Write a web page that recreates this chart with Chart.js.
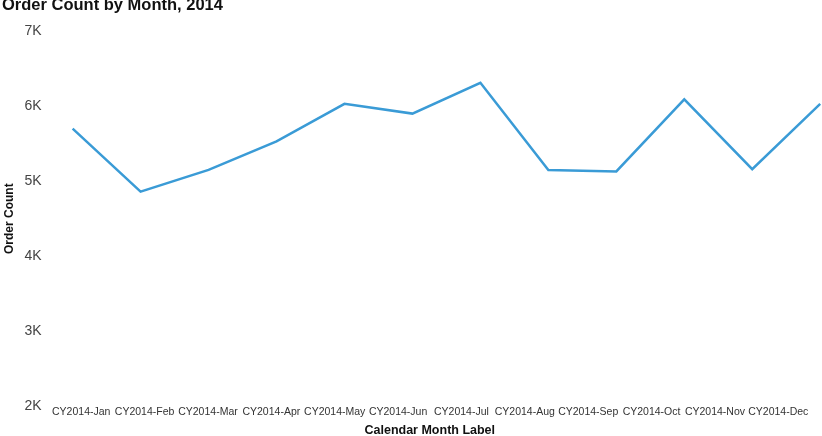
<!DOCTYPE html>
<html>
<head>
<meta charset="utf-8">
<script src="https://cdn.jsdelivr.net/npm/chart.js@4"></script>
<style>
  html, body { margin: 0; padding: 0; background: #fff; overflow: hidden; }
  #wrap { width: 822px; height: 438px; }
</style>
</head>
<body>
<div id="wrap"><canvas id="grafico"></canvas></div>
<script>
// --- DATOS ---
const meses = ['CY2014-Jan', 'CY2014-Feb', 'CY2014-Mar', 'CY2014-Apr', 'CY2014-May', 'CY2014-Jun',
               'CY2014-Jul', 'CY2014-Aug', 'CY2014-Sep', 'CY2014-Oct', 'CY2014-Nov', 'CY2014-Dec'];
const pedidos = [5700, 4860, 5150, 5530, 6030, 5900, 6310, 5150, 5130, 6090, 5160, 6030];
const ticksY = [2000, 3000, 4000, 5000, 6000, 7000];

// --- GRAFICO ---
const fuente = 'Arial, "Liberation Sans", sans-serif';
const puntos = pedidos.map((v, i) => ({ x: i, y: v }));

new Chart(document.getElementById('grafico'), {
    type: 'line',
    data: {
        datasets: [{
            label: 'Order Count',
            data: puntos,
            xAxisID: 'x',
            borderColor: '#3a9bd6',
            borderWidth: 2.5,
            pointRadius: 0,
            tension: 0,
            clip: false
        }]
    },
    options: {
        responsive: true,
        maintainAspectRatio: false,
        animation: false,
        layout: { padding: { left: 2, right: 12, top: 0, bottom: 0 } },
        plugins: {
            legend: { display: false },
            tooltip: { enabled: false },
            title: {
                display: true,
                text: 'Order Count by Month, 2014',
                align: 'start',
                color: '#111',
                font: { family: fuente, size: 16.5, weight: 'bold', lineHeight: 1 },
                padding: { top: -3, bottom: 17.5 }
            }
        },
        scales: {
            // eje de datos (oculto): indices de mes
            x: {
                type: 'linear',
                display: false,
                min: -0.34,
                max: 10.85
            },
            // eje visible con las etiquetas de mes
            x2: {
                type: 'category',
                labels: meses,
                position: 'bottom',
                offset: true,
                grid: { display: false },
                border: { display: false },
                ticks: {
                    autoSkip: false,
                    maxRotation: 0,
                    padding: -9,
                    color: '#333',
                    font: { family: fuente, size: 10.5 }
                },
                title: {
                    display: true,
                    text: 'Calendar Month Label',
                    color: '#111',
                    font: { family: fuente, size: 12.5, weight: 'bold' },
                    padding: { top: 14, bottom: 0 }
                }
            },
            y: {
                min: ticksY[0],
                max: ticksY[ticksY.length - 1],
                grid: { display: false },
                border: { display: false },
                afterBuildTicks: (eje) => { eje.ticks = ticksY.map(v => ({ value: v })); },
                ticks: {
                    padding: 0,
                    color: '#444',
                    font: { family: fuente, size: 14 },
                    callback: (v) => (v / 1000) + 'K'
                },
                title: {
                    display: true,
                    text: 'Order Count',
                    color: '#111',
                    font: { family: fuente, size: 12, weight: 'bold' },
                    padding: { top: 0, bottom: 8 }
                }
            }
        }
    }
});
</script>
</body>
</html>
